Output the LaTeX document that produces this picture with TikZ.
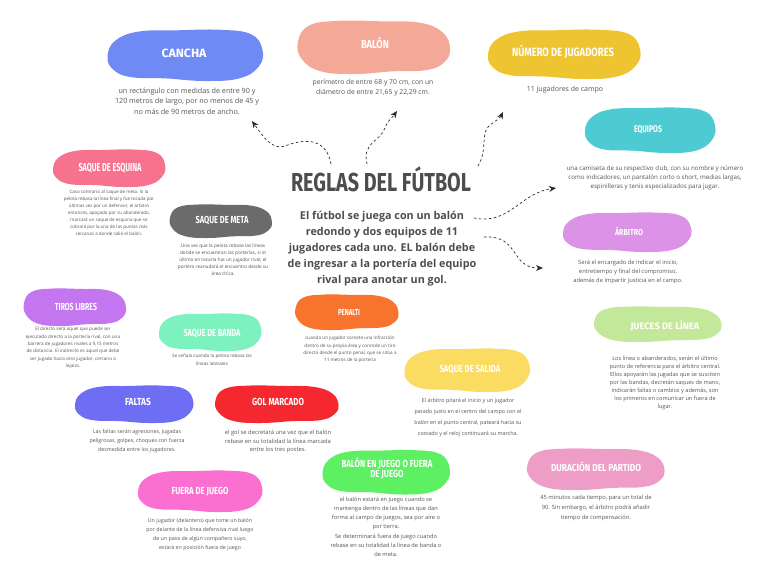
\documentclass[tikz,border=0pt]{standalone}
\usepackage{fontspec}
\usepackage{graphicx}
\usetikzlibrary{arrows.meta}
\setmainfont{Open Sans}
\newfontfamily\ttlfont{Fira Sans}
\definecolor{txt}{RGB}{85,85,85}
\definecolor{ttlc}{RGB}{77,77,77}
\definecolor{arrc}{RGB}{45,45,45}
\definecolor{cCancha}{RGB}{112,138,245}
\definecolor{cBalon}{RGB}{243,168,152}
\definecolor{cNumero}{RGB}{238,196,48}
\definecolor{cEquipos}{RGB}{78,202,210}
\definecolor{cEsquina}{RGB}{246,114,142}
\definecolor{cMeta}{RGB}{107,107,107}
\definecolor{cArbitro}{RGB}{220,146,230}
\definecolor{cTiros}{RGB}{196,118,240}
\definecolor{cBanda}{RGB}{126,242,190}
\definecolor{cPenalti}{RGB}{248,115,46}
\definecolor{cSalida}{RGB}{250,220,98}
\definecolor{cJueces}{RGB}{196,232,154}
\definecolor{cFaltas}{RGB}{110,110,245}
\definecolor{cGol}{RGB}{244,40,46}
\definecolor{cJuego}{RGB}{94,240,99}
\definecolor{cDuracion}{RGB}{238,158,198}
\definecolor{cFuera}{RGB}{251,111,208}
\newcommand\TT[3]{\resizebox{#2pt}{\height}{\fontsize{#1}{#1}\selectfont #3}}
\newcommand\FS[2]{\fontsize{#1}{#2}\selectfont}
\newcommand\blob[6][1]{%
  \begin{scope}[shift={(#2,#3)},xscale=#1*#4/2,yscale=#5/2]
    \fill[#6] plot[smooth cycle,tension=0.7] coordinates {(-1.0,0.05) (-0.9,-0.55) (-0.6,-0.9) (-0.1,-0.95) (0.45,-0.97) (0.85,-0.8) (1.0,-0.2) (0.95,0.45) (0.7,0.9) (0.25,1.0) (-0.25,0.9) (-0.7,0.85) (-0.93,0.55)};
  \end{scope}}
\tikzset{
  ttl/.style={text=white, font=\ttlfont\bfseries, inner sep=0pt, anchor=base},
  desc/.style={text=txt, align=center, inner sep=0pt, anchor=north},
  arr/.style={draw=arrc, line width=0.7pt, dash pattern=on 2.5pt off 2.5pt, -{Stealth[length=7pt,width=6pt]}},
}
\begin{document}
\begin{tikzpicture}[x=1pt,y=-1pt]
\useasboundingbox (0,0) rectangle (768,576);
\fill[white] (0,0) rectangle (768,576);

% blobs
\blob{185}{55}{155}{52}{cCancha}
\blob[-1]{374}{47}{152}{54}{cBalon}
\blob{564}{54}{152}{50}{cNumero}
\blob{650}{130}{130}{46}{cEquipos}
\blob{109}{168}{112}{38}{cEsquina}
\blob[-1]{221}{221}{102}{34}{cMeta}
\blob{627}{232}{128}{40}{cArbitro}
\blob[-1]{75}{307}{102}{38}{cTiros}
\blob{210}{332}{102}{38}{cBanda}
\blob[-1]{347}{312}{103}{36}{cPenalti}
\blob{467}{370}{125}{44}{cSalida}
\blob[-1]{658}{324}{127}{36}{cJueces}
\blob{134}{404}{118}{38}{cFaltas}
\blob[-1]{277}{404}{123}{38}{cGol}
\blob{386}{472}{127}{45}{cJuego}
\blob[-1]{596}{469}{137}{42}{cDuracion}
\blob{200}{491}{124}{42}{cFuera}

% titles
\node[ttl] (cancha) at (184,57.2) {\TT{12}{45}{CANCHA}};
\node[ttl] (balon) at (375,48) {\TT{11.6}{28}{BALÓN}};
\node[ttl] (numero) at (563,56.2) {\TT{12}{102}{NÚMERO DE JUGADORES}};
\node[ttl] (equipos) at (648,132.3) {\TT{9.7}{28}{EQUIPOS}};
\node[ttl] (esquina) at (110,171) {\TT{11.6}{63}{SAQUE DE ESQUINA}};
\node[ttl] (meta) at (222,223.5) {\TT{10.2}{53}{SAQUE DE META}};
\node[ttl] (arbitro) at (629,235) {\TT{8.7}{28}{ÁRBITRO}};
\node[ttl] (tiros) at (76,310.5) {\TT{10.2}{42}{TIROS LIBRES}};
\node[ttl] (banda) at (212,336.5) {\TT{10.2}{57}{SAQUE DE BANDA}};
\node[ttl] (penalti) at (349,315) {\TT{8.7}{22}{PENALTI}};
\node[ttl] (salida) at (470,372.5) {\TT{10.2}{61}{SAQUE DE SALIDA}};
\node[ttl] (jueces) at (665,329.2) {\TT{9.4}{69}{JUECES DE LÍNEA}};
\node[ttl] (faltas) at (138,405.5) {\TT{10.2}{26}{FALTAS}};
\node[ttl] (gol) at (278,405.5) {\TT{10.2}{52}{GOL MARCADO}};
\node[ttl, anchor=center, align=center] (juego) at (387,469) {\TT{10.2}{91}{\begin{tabular}{@{}c@{}}BALÓN EN JUEGO O FUERA\\[-1pt] DE JUEGO\end{tabular}}};
\node[ttl] (duracion) at (596,471.5) {\TT{10.2}{90}{DURACIÓN DEL PARTIDO}};
\node[ttl] (fuera) at (200,494.5) {\TT{10.2}{57}{FUERA DE JUEGO}};

% main title & paragraph
\node[inner sep=0pt, anchor=base, text=ttlc, font=\ttlfont\bfseries] (titulo) at (381,191) {\TT{26}{180}{REGLAS DEL FÚTBOL}};
\node[desc, text=ttlc, font=\bfseries\FS{10.8}{16}] (intro) at (382,211) {El fútbol se juega con un balón\\redondo y dos equipos de 11\\jugadores cada uno. EL balón debe\\de ingresar a la portería del equipo\\rival para anotar un gol.};

% descriptions
\node[desc, font=\FS{7.2}{10.3}] (canchaD) at (187,87.7) {un rectángulo con medidas de entre 90 y\\120 metros de largo, por no menos de 45 y\\no más de 90 metros de ancho.};
\node[desc, font=\FS{6.8}{10}] (balonD) at (373,78.9) {perímetro de entre 68 y 70 cm, con un\\diámetro de entre 21,65 y 22,29 cm.};
\node[desc, font=\FS{7}{9}] (numeroD) at (565,85.8) {11 jugadores de campo};
\node[desc, font=\FS{6.2}{9}] (equiposD) at (655,166) {una camiseta de su respectivo club, con su nombre y número\\como indicadores, un pantalón corto o short, medias largas,\\espinilleras y tenis especializados para jugar.};
\node[desc, font=\FS{4.5}{6.9}] (esquinaD) at (109,190) {Caso contrario al saque de meta. Si la\\pelota rebasa la línea final y fue tocada por\\últimas vez por un defensor, el árbitro\\entonces, apoyado por su abanderado,\\marcará un saque de esquina que se\\cobrará por la una de las puntas más\\cercanas a donde salió el balón.};
\node[desc, font=\FS{4.7}{7}] (metaD) at (223,244) {Una vez que la pelota rebase las líneas\\donde se encuentran las porterías, si el\\último en tocarla fue un jugador rival, el\\portero reanudará el encuentro desde su\\área chica.};
\node[desc, font=\FS{5.8}{9}] (arbitroD) at (628,260.3) {Será el encargado de indicar el inicio,\\entretiempo y final del compromiso,\\además de impartir justicia en el campo.};
\node[desc, font=\FS{4.6}{7.4}] (tirosD) at (73,327) {El directo será aquel que puede ser\\ejecutado directo a la portería rival, con una\\barrera de jugadores rivales a 9,15 metros\\de distancia. El indirecto es aquel que debe\\ser jugado hacia otro jugador, cercano o\\lejano.};
\node[desc, font=\FS{4.6}{7.3}] (bandaD) at (212,354) {Se señala cuando la pelota rebasa las\\líneas laterales};
\node[desc, font=\FS{4.6}{7.3}] (penaltiD) at (350,336) {cuando un jugador comete una infracción\\dentro de su propia área y concede un tiro\\directo desde el punto penal, que se sitúa a\\11 metros de la portería};
\node[desc, font=\FS{5.4}{11}] (salidaD) at (468,398.5) {El árbitro pitará el inicio y un jugador\\parado justo en el centro del campo con el\\balón en el punto central, pateará hacia su\\costado y el reloj continuará su marcha.};
\node[desc, font=\FS{5.6}{8}] (juecesD) at (665,356) {Los línea o abanderados, serán el último\\punto de referencia para el árbitro central.\\Ellos apoyarán las jugadas que se susciten\\por las bandas, decretán saques de mano,\\indicarán faltas o cambios y además, son\\los primeros en comunicar un fuera de\\lugar.};
\node[desc, font=\FS{5.3}{9}] (faltasD) at (137,429.5) {Las faltas serán agresiones, jugadas\\peligrosas, golpes, choques con fuerza\\desmedida entre los jugadores.};
\node[desc, font=\FS{5.8}{8.5}] (golD) at (278,430) {el gol se decretará una vez que el balón\\rebase en su totalidad la línea marcada\\entre los tres postes.};
\node[desc, font=\FS{5.7}{9.3}] (juegoD) at (386,496.5) {el balón estará en juego cuando se\\mantenga dentro de las líneas que dan\\forma al campo de juegos, sea por aire o\\por tierra.\\Se determinará fuera de juego cuando\\rebase en su totalidad la línea de banda o\\de meta.};
\node[desc, font=\FS{5.8}{10}] (duracionD) at (596,495) {45 minutos cada tiempo, para un total de\\90. Sin embargo, el árbitro podrá añadir\\tiempo de compensación.};
\node[desc, font=\FS{5.3}{9}] (fueraD) at (200,518.5) {Un jugador (delantero) que tome un balón\\por delante de la línea defensiva rival luego\\de un pase de algún compañero suyo,\\estará en posición fuera de juego};

% connectors
\coordinate (s1) at (331,164);
\coordinate (e1) at (252,121);
\coordinate (s2) at (367,164);
\coordinate (e2) at (397,111);
\coordinate (s3) at (478,166);
\coordinate (e3) at (503,112);
\coordinate (s4) at (474,218);
\coordinate (e4) at (556,188);
\coordinate (s5) at (484,237);
\coordinate (e5) at (543,268);
\draw[arr] (s1) .. controls (326,135) and (300,140) .. (285,146) .. controls (272,151) and (262,135) .. (e1);
\draw[arr] (s2) .. controls (362,142) and (380,142) .. (385,128) .. controls (388,120) and (392,118) .. (e2);
\draw[arr] (s3) .. controls (488,150) and (480,132) .. (490,125) .. controls (497,120) and (500,118) .. (e3);
\draw[arr] (s4) .. controls (510,225) and (520,193) .. (e4);
\draw[arr] (s5) .. controls (520,235) and (510,268) .. (e5);
\end{tikzpicture}
\end{document}
